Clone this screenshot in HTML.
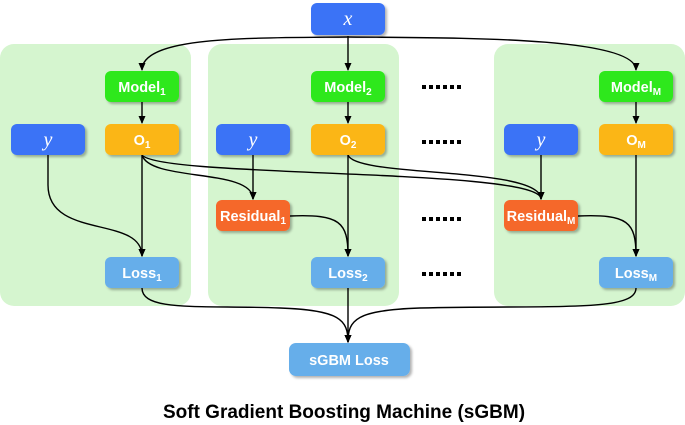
<!DOCTYPE html>
<html><head><meta charset="utf-8"><style>
body{margin:0;background:#fff;}
svg{display:block;}
.t{font-family:"Liberation Sans",sans-serif;font-weight:bold;fill:#fff;font-size:14.5px;}
.i{font-family:"Liberation Serif",serif;font-style:italic;fill:#fff;font-size:20px;}
.s{font-size:10px;}
</style></head><body>
<svg width="685" height="425" viewBox="0 0 685 425" xmlns="http://www.w3.org/2000/svg">
<defs>
<marker id="a" markerWidth="8" markerHeight="8" refX="7" refY="4" orient="auto" markerUnits="userSpaceOnUse"><path d="M0,0.5 L8,4 L0,7.5 Z" fill="#000"/></marker>
<filter id="sh" x="-10%" y="-10%" width="130%" height="140%"><feDropShadow dx="2" dy="2" stdDeviation="1.2" flood-color="#000" flood-opacity="0.3"/></filter>
</defs>
<rect x="0" y="44" width="191" height="262" rx="14" fill="#d5f5cf"/>
<rect x="208" y="44" width="191" height="262" rx="14" fill="#d5f5cf"/>
<rect x="494" y="44" width="191" height="262" rx="14" fill="#d5f5cf"/>
<g fill="none" stroke="#000" stroke-width="1.4" marker-end="url(#a)">
<path d="M348,36 L348,70"/>
<path d="M348,37 C250,38 142,36 142,70"/>
<path d="M348,37 C450,38 636,36 636,70"/>
<path d="M142,102 L142,123"/><path d="M348,102 L348,123"/><path d="M636,102 L636,123"/>
<path d="M142,155 L142,256"/><path d="M348,155 L348,256"/><path d="M636,155 L636,256"/>
<path d="M48,155 L48,185 C48,240 142,215 142,256"/>
<path d="M142,155 C150,182 253,168 253,199"/>
<path d="M142,155 C160,178 541,168 541,199"/>
<path d="M348,155 C356,178 541,166 541,199"/>
<path d="M253,155 L253,199"/><path d="M541,155 L541,199"/>
<path d="M290,216 C340,214 348,222 348,256"/>
<path d="M578,216 C628,214 636,222 636,256"/>
<path d="M142,288 C142,312 200,305 280,308 C340,310 348,320 348,342"/>
<path d="M636,288 C636,312 560,305 420,308 C356,310 348,320 348,342"/>
<path d="M348,288 L348,342"/>
</g>
<g filter="url(#sh)">
<rect x="311" y="3" width="74" height="32" rx="6" fill="#3a73f6"/>
<rect x="105" y="71" width="74" height="31" rx="6" fill="#2ee81e"/>
<rect x="311" y="71" width="74" height="31" rx="6" fill="#2ee81e"/>
<rect x="599" y="71" width="74" height="31" rx="6" fill="#2ee81e"/>
<rect x="11" y="124" width="74" height="31" rx="6" fill="#3a73f6"/>
<rect x="216" y="124" width="74" height="31" rx="6" fill="#3a73f6"/>
<rect x="504" y="124" width="74" height="31" rx="6" fill="#3a73f6"/>
<rect x="105" y="124" width="74" height="31" rx="6" fill="#fbb615"/>
<rect x="311" y="124" width="74" height="31" rx="6" fill="#fbb615"/>
<rect x="599" y="124" width="74" height="31" rx="6" fill="#fbb615"/>
<rect x="216" y="200" width="74" height="31" rx="6" fill="#f5672a"/>
<rect x="504" y="200" width="74" height="31" rx="6" fill="#f5672a"/>
<rect x="105" y="257" width="74" height="31" rx="6" fill="#66aeea"/>
<rect x="311" y="257" width="74" height="31" rx="6" fill="#66aeea"/>
<rect x="599" y="257" width="74" height="31" rx="6" fill="#66aeea"/>
<rect x="289" y="343" width="121" height="33" rx="7" fill="#66aeea"/>
</g>
<g text-anchor="middle">
<text class="i" x="348" y="25">x</text>
<text class="i" x="48" y="146">y</text><text class="i" x="253" y="146">y</text><text class="i" x="541" y="146">y</text>
<text class="t" x="142" y="92">Model<tspan class="s" dy="3">1</tspan></text>
<text class="t" x="348" y="92">Model<tspan class="s" dy="3">2</tspan></text>
<text class="t" x="636" y="92">Model<tspan class="s" dy="3">M</tspan></text>
<text class="t" x="142" y="145">O<tspan class="s" dy="3">1</tspan></text>
<text class="t" x="348" y="145">O<tspan class="s" dy="3">2</tspan></text>
<text class="t" x="636" y="145">O<tspan class="s" dy="3">M</tspan></text>
<text class="t" x="253" y="221">Residual<tspan class="s" dy="3">1</tspan></text>
<text class="t" x="541" y="221">Residual<tspan class="s" dy="3">M</tspan></text>
<text class="t" x="142" y="278">Loss<tspan class="s" dy="3">1</tspan></text>
<text class="t" x="348" y="278">Loss<tspan class="s" dy="3">2</tspan></text>
<text class="t" x="636" y="278">Loss<tspan class="s" dy="3">M</tspan></text>
<text class="t" x="349" y="365">sGBM Loss</text>
<text x="344" y="418" font-family="Liberation Sans,sans-serif" font-weight="bold" font-size="19" fill="#000">Soft Gradient Boosting Machine (sGBM)</text>
</g>
<g fill="#000">
<g id="d"><rect x="422" y="85" width="4" height="4"/><rect x="429" y="85" width="4" height="4"/><rect x="436" y="85" width="4" height="4"/><rect x="443" y="85" width="4" height="4"/><rect x="450" y="85" width="4" height="4"/><rect x="457" y="85" width="4" height="4"/></g>
<use href="#d" y="55"/><use href="#d" y="132"/><use href="#d" y="187"/>
</g>
</svg>
</body></html>
